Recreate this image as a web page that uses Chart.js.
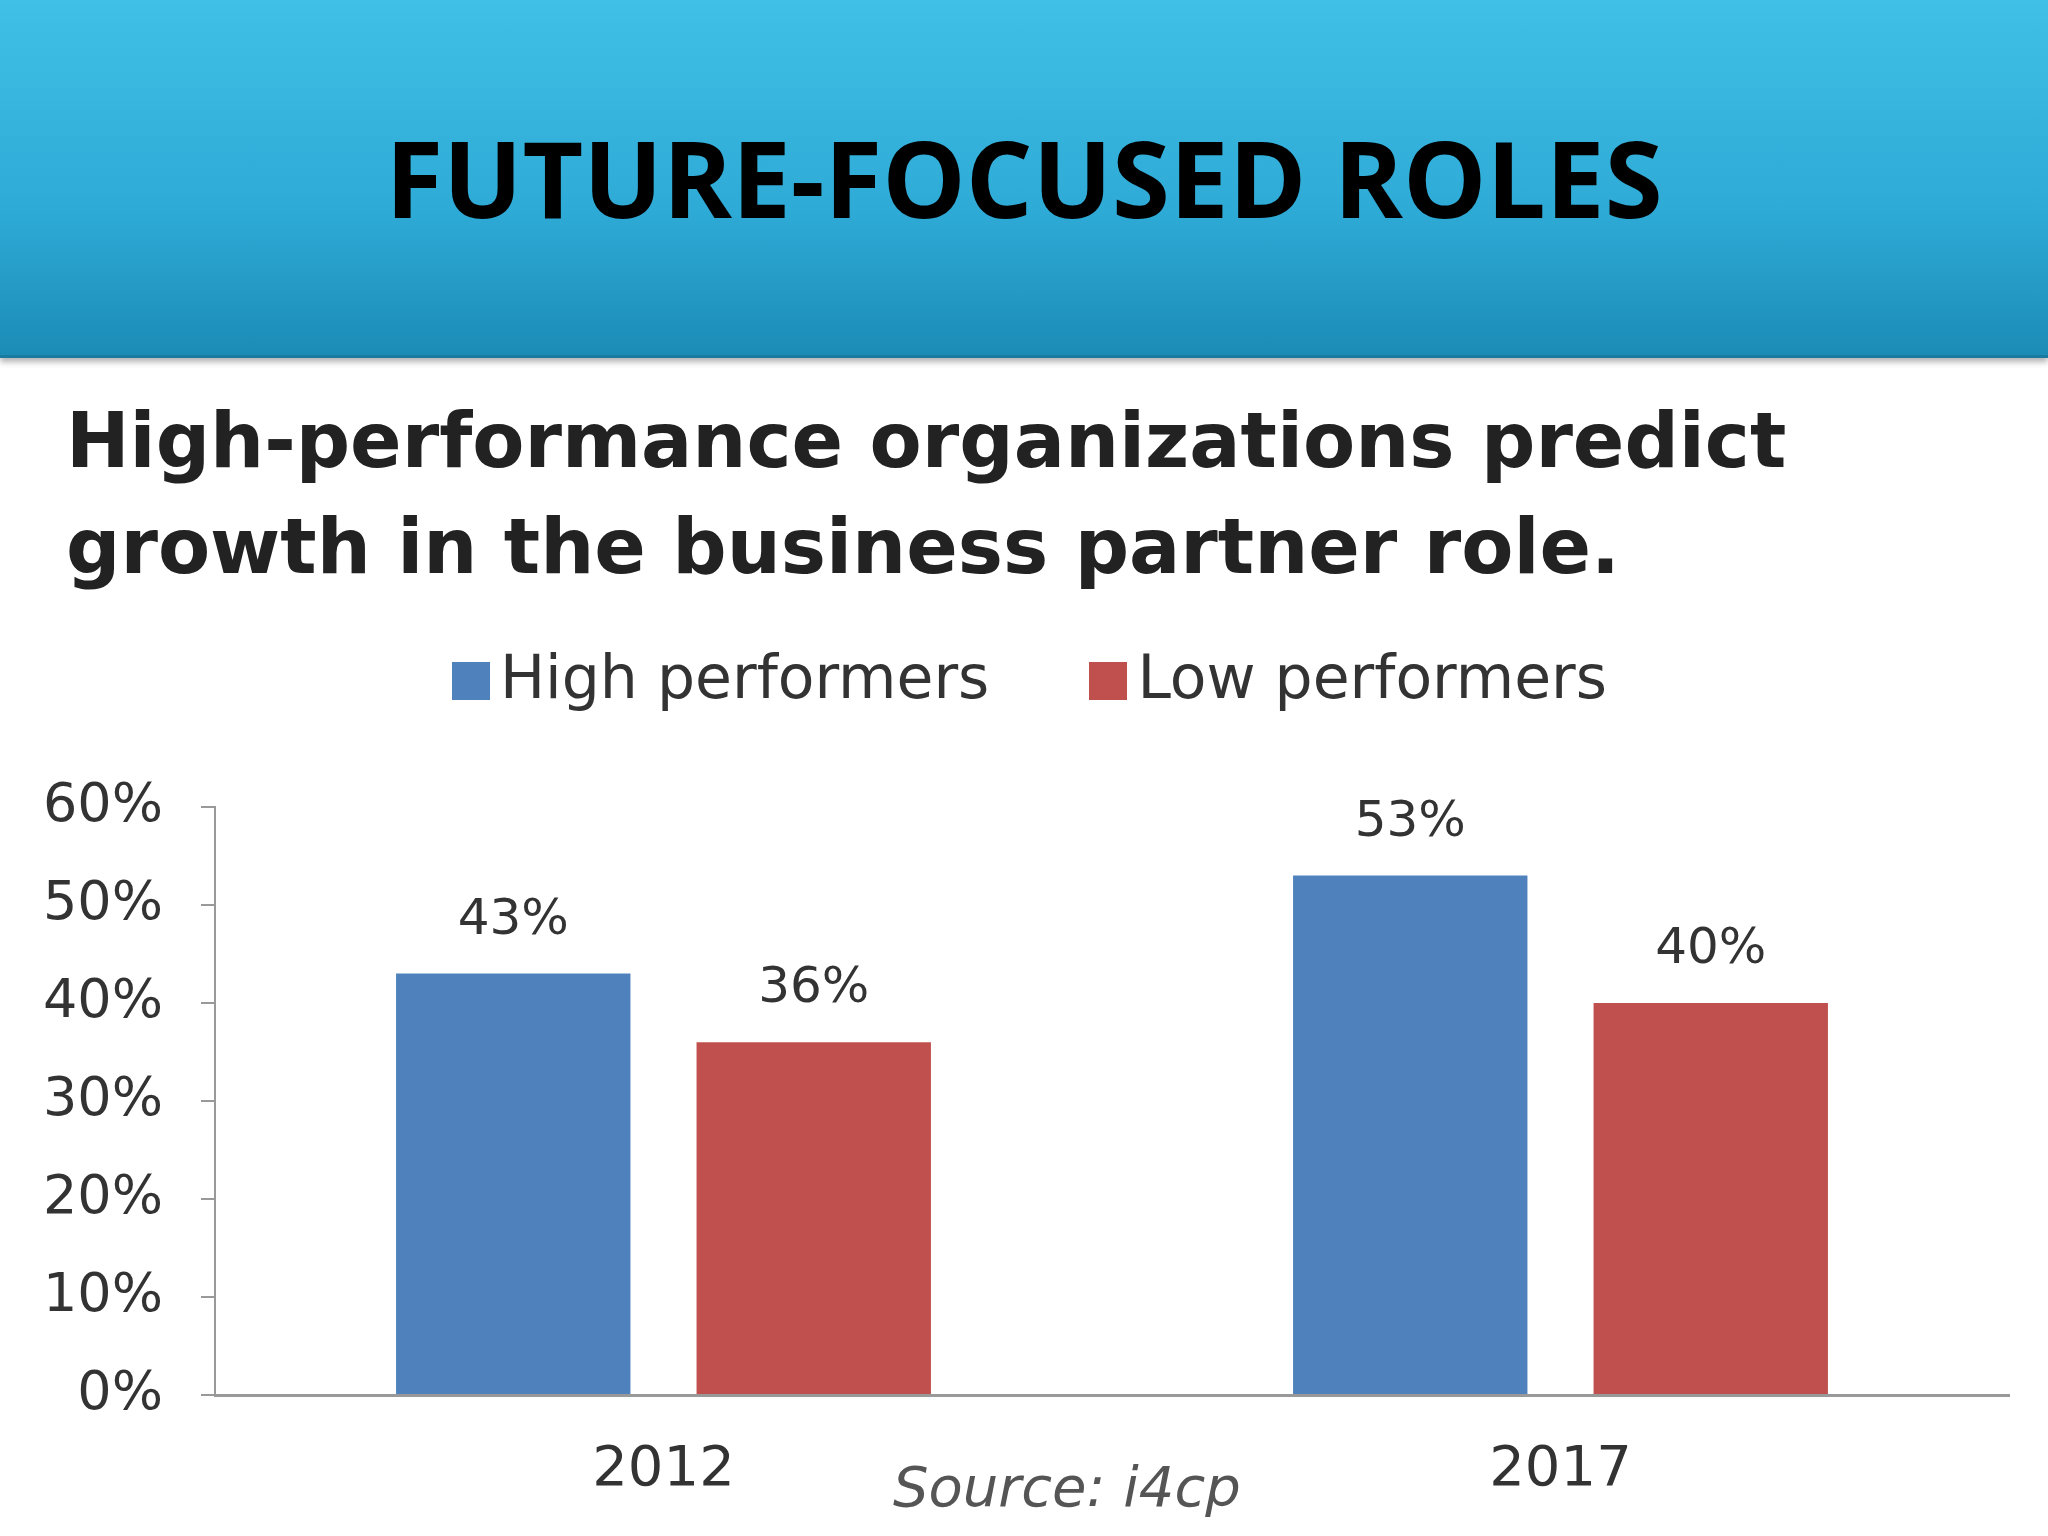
<!DOCTYPE html>
<html>
<head>
<meta charset="utf-8">
<script src="https://cdn.jsdelivr.net/npm/chart.js@4.4.0/dist/chart.umd.min.js"></script>
<style>
  body { margin: 0; width: 2048px; height: 1536px; background: #fff; position: relative; overflow: hidden; }
  #header {
    position: absolute; left: 0; top: 0; width: 2048px; height: 355px;
    background: linear-gradient(#40c0e6, #2eaad6 60%, #1b8cb6);
    border-bottom: 3px solid #1a7aa0; box-shadow: 0 4px 6px rgba(0,0,0,0.3);
    display: flex; align-items: center; justify-content: center;
  }
  #header h1 { margin: 0; font-family: "Open Sans", sans-serif; font-weight: 700; font-size: 105px; color: #000; letter-spacing: 0px; }
  #sub { position: absolute; left: 66px; top: 388px; font-family: "DejaVu Sans", sans-serif; font-weight: 700; font-size: 76px; line-height: 106px; color: #222; }
  #legend { position: absolute; top: 642px; left: 452px; font-family: "DejaVu Sans", sans-serif; font-size: 60px; color: #333; display: flex; gap: 100px; }
  #legend span.box { display: inline-block; width: 38px; height: 38px; margin-right: 10px; vertical-align: -2px; }
  #source { position: absolute; left: 893px; top: 1454px; font-family: "DejaVu Sans", sans-serif; font-style: italic; font-size: 56px; color: #555; }
  #wrap { position: absolute; left: 0; top: 600px; width: 2048px; height: 936px; }
</style>
</head>
<body>
<div id="header"><h1>FUTURE-FOCUSED ROLES</h1></div>
<div id="sub">High-performance organizations predict<br>growth in the business partner role.</div>
<div id="legend"></div>
<div id="wrap"><canvas id="c" width="2048" height="936"></canvas></div>
<div id="source">Source: i4cp</div>
<script>
const categories = ['2012', '2017'];
const seriesNames = ['High performers', 'Low performers'];
const highValues = [43, 53];
const lowValues = [36, 40];
const yTicks = [0, 10, 20, 30, 40, 50, 60];
const colors = ['#4f81bd', '#c0504d'];

// legend in html
document.getElementById('legend').innerHTML = seriesNames.map((n, i) =>
  '<div><span class="box" style="background:' + colors[i] + '"></span>' + n + '</div>').join('');

const valueLabels = {
  id: 'valueLabels',
  afterDatasetsDraw(chart) {
    const ctx = chart.ctx;
    ctx.save();
    ctx.font = '50px "DejaVu Sans"';
    ctx.fillStyle = '#333';
    ctx.textAlign = 'center';
    ctx.textBaseline = 'bottom';
    chart.data.datasets.forEach((ds, i) => {
      chart.getDatasetMeta(i).data.forEach((bar, j) => {
        ctx.fillText(ds.data[j] + '%', bar.x, bar.y - 28);
      });
    });
    ctx.restore();
  }
};

new Chart(document.getElementById('c'), {
  type: 'bar',
  data: {
    labels: categories,
    datasets: [
      { label: seriesNames[0], data: highValues, backgroundColor: colors[0] },
      { label: seriesNames[1], data: lowValues, backgroundColor: colors[1] }
    ]
  },
  options: {
    responsive: false,
    animation: false,
    layout: { padding: { top: 207, right: 39, left: 0, bottom: 0 } },
    plugins: { legend: { display: false }, tooltip: { enabled: false } },
    datasets: { bar: { categoryPercentage: 0.67, barPercentage: 0.78 } },
    scales: {
      x: {
        grid: { display: false },
        border: { color: '#999', width: 3 },
        ticks: { color: '#333', font: { family: 'DejaVu Sans', size: 56 }, padding: 34 },
        afterFit(s) { s.height = 141; }
      },
      y: {
        min: 0, max: 60,
        afterBuildTicks(s) { s.ticks = yTicks.map(v => ({ value: v })); },
        grid: { drawOnChartArea: false, tickLength: 14, color: '#999', lineWidth: 2 },
        border: { color: '#999', width: 2 },
        ticks: { color: '#333', font: { family: 'DejaVu Sans', size: 54 }, padding: 38, callback: v => v + '%' },
        afterFit(s) { s.width = 215; }
      }
    }
  },
  plugins: [valueLabels]
});
</script>
</body>
</html>
